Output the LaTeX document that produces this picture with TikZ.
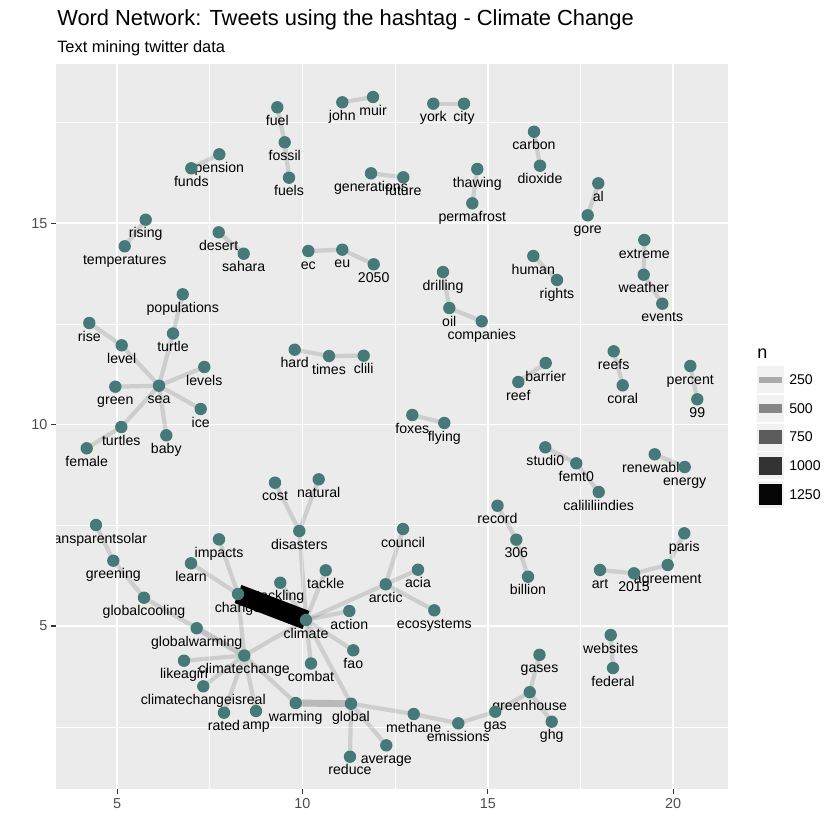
\documentclass[tikz,border=0pt]{standalone}
\usepackage{fontspec}
\setmainfont{Liberation Sans}
\definecolor{panelbg}{HTML}{EBEBEB}
\definecolor{nodeteal}{HTML}{467A79}
\definecolor{axisgray}{HTML}{4D4D4D}
\definecolor{tickgray}{HTML}{333333}
\definecolor{keybg}{HTML}{F2F2F2}
\def\px{0.75pt}
\tikzset{
  word/.style={circle, fill=nodeteal, inner sep=0pt, minimum size=9.3pt},
  lab/.style={anchor=base, inner sep=0pt, font=\fontsize{10.6}{12}\selectfont},
  edge/.style={draw=black, draw opacity=0.12, line width=3.2pt},
  edgemid/.style={draw=black, draw opacity=0.17, line width=4.1pt},
  edgeheavy/.style={draw=black, draw opacity=0.21, line width=5.2pt},
  bigedge/.style={draw=black, line width=14.5pt},
  majorgrid/.style={draw=white, line width=1.4pt},
  minorgrid/.style={draw=white, line width=0.7pt},
  axlab/.style={inner sep=0pt, text=axisgray, font=\fontsize{10.8}{12}\selectfont},
  tickmark/.style={draw=tickgray, line width=0.8pt},
  keytext/.style={anchor=west, inner sep=0pt, font=\fontsize{10.6}{12}\selectfont}
}
% word positions (pixels from top left)
\def\wordlist{fuel/277.3/107.3, fossil/284.7/142.3, fuels/289/177.7, john/342.3/102.3, muir/373/97,
  york/433.3/103.7, city/464/103.7, funds/191.3/168.3, pension/219.3/154.3, generations/371/173.3,
  future/403.3/177.3, thawing/477.3/169, permafrost/472.3/203.3, carbon/534/131.7, dioxide/540/165.7,
  al/598.3/183.3, gore/587.7/215.3, rising/145.7/219.7, temperatures/124.7/246.3, desert/218.7/232.3,
  sahara/243.7/253.7, ec/308.3/251, eu/342.3/249.7, 2050/373.7/264.3, extreme/644.3/240,
  weather/643.7/274.7, events/662.3/303.7, human/533.3/256, rights/557/280, drilling/443/272,
  oil/449.3/308, companies/481.7/321.3, populations/182.7/294.3, rise/89.3/323, turtle/173/333.5,
  level/121.7/345.3, levels/204.3/367, green/115.3/386.7, sea/159/385.7, ice/200.7/409,
  turtles/121.3/427, baby/166.3/435.3, female/86.7/448.3, hard/294.7/349.7, times/329/356,
  clili/363.7/355.7, barrier/545.7/363, reef/518.3/382, reefs/613.7/351.3, coral/622.7/385.3,
  percent/690.3/366, 99/697.3/399.3, foxes/412.3/415, flying/444.3/423, studi0/545.3/447.3,
  femt0/576.3/463.3, calililiindies/598.7/492, renewable/654.7/454.3, energy/684.7/467,
  record/497.5/505.7, 306/516.3/539.7, billion/528/576.7, art/600/570, 2015/634/573.3,
  agreement/667.7/565, paris/684.3/533.3, websites/610.7/635, federal/613/668, cost/275/482.7,
  natural/318.7/479.3, disasters/299.3/531, council/403/529, transparentsolar/96/525,
  greening/113.3/560.7, globalcooling/144/597.7, impacts/219/539.3, learn/191/563.3, change/238/594,
  tackling/280.3/582.7, tackle/325.7/570.3, arctic/385.7/584.3, acia/418/569.7, ecosystems/434.3/610.3,
  action/349.3/611, climate/306/620, globalwarming/196.7/628.2, climatechange/244.3/655.5,
  likeagirl/184/660.7, fao/353.3/650.3, combat/311/663.5, climatechangeisreal/203.3/686.3,
  rated/224/712.7, amp/256/711, warming/295.7/703, global/351/703.7, methane/413.7/714,
  emissions/458.3/723.3, gas/495.3/711.7, greenhouse/529.7/692.2, gases/539.5/654.8,
  ghg/551.7/721.7, reduce/350/756.7, average/386.3/745.3}
\begin{document}
\begin{tikzpicture}[x=\px, y=-\px]
\useasboundingbox (0,0) rectangle (840,840);
\fill[white] (0,0) rectangle (840,840);
% titles
\node[anchor=base west, inner sep=0pt, font=\fontsize{16.4}{19}\selectfont] (title) at (57,25)
  {Word Network: Tweets using the hashtag - Climate Change};
\node[anchor=base west, inner sep=0pt, font=\fontsize{12.3}{14}\selectfont] (subtitle) at (57,52.3)
  {Text mining twitter data};
% panel and grid
\fill[panelbg] (56,64) rectangle (728,789);
\foreach \gx in {209.8,395.1,580.4} \draw[minorgrid] (\gx,64) -- (\gx,789);
\foreach \gy in {122.3,324,525.3,727} \draw[minorgrid] (56,\gy) -- (728,\gy);
\foreach \gx in {117.2,302.5,487.8,673.1} \draw[majorgrid] (\gx,64) -- (\gx,789);
\foreach \gy in {223.3,424.5,626} \draw[majorgrid] (56,\gy) -- (728,\gy);
% axes
\foreach \v/\gx in {5/117.2,10/302.5,15/487.8,20/673.1}{
  \draw[tickmark] (\gx,789) -- (\gx,793.6);
  \node[axlab, anchor=north] (xlab\v) at (\gx,798.3) {\v};
}
\foreach \v/\gy in {5/626,10/424.5,15/223.3}{
  \draw[tickmark] (51.4,\gy) -- (56,\gy);
  \node[axlab, anchor=east] (ylab\v) at (47.7,\gy) {\v};
}
\begin{scope}
  \clip (56,64) rectangle (728,789);
  % words: positions and labels
  \foreach \w/\x/\y in \wordlist {
    \coordinate (\w) at (\x,\y);
    \node[lab] (l-\w) at ([yshift=-13.5pt]\w) {\w};
  }
  % bigram links
  \foreach \a/\b in {fuel/fossil, fossil/fuels, john/muir, york/city, funds/pension,
    generations/future, thawing/permafrost, carbon/dioxide, al/gore, rising/temperatures,
    desert/sahara, ec/eu, eu/2050, extreme/weather, weather/events, human/rights,
    drilling/oil, oil/companies, populations/turtle, turtle/sea, rise/level, level/sea,
    sea/green, sea/levels, sea/ice, sea/baby, sea/turtles, turtles/female, hard/times,
    times/clili, barrier/reef, reefs/coral, percent/99, foxes/flying, studi0/femt0,
    femt0/calililiindies, renewable/energy, record/306, 306/billion, art/2015,
    2015/agreement, agreement/paris, websites/federal, cost/disasters, natural/disasters,
    disasters/climate, council/arctic, arctic/acia, arctic/ecosystems, climate/arctic,
    transparentsolar/greening, greening/globalcooling, globalcooling/globalwarming,
    learn/change, impacts/change, change/climatechange, tackling/climate, tackle/climate,
    climate/action, climate/fao, climate/combat, climate/global, climate/climatechange,
    climatechange/likeagirl, climatechange/climatechangeisreal, climatechange/rated,
    climatechange/amp, climatechange/warming, global/reduce, global/average,
    global/methane, methane/emissions, emissions/gas, gas/greenhouse,
    greenhouse/gases, greenhouse/ghg}
    \draw[edge] (\a) -- (\b);
  \draw[edgemid] (globalwarming) -- (climatechange);
  \draw[edgeheavy] (warming) -- (global);
  \draw[bigedge] (change) -- (climate);
  % word points
  \foreach \w/\x/\y in \wordlist
    \node[word] (p-\w) at (\w) {};
\end{scope}
% legend
\node[anchor=base west, inner sep=0pt, font=\fontsize{13.5}{15}\selectfont] (legtitle) at (757,358.3) {n};
\foreach \i/\lv/\lw/\lc in {0/250/4.5pt/33, 1/500/6.8pt/47, 2/750/10.2pt/64, 3/1000/13.4pt/80, 4/1250/16pt/98}{
  \pgfmathsetmacro\ky{379.7+28.7*\i}
  \fill[keybg] (756.7,\ky-13.6) rectangle (784,\ky+13.6);
  \draw[draw=black!\lc, line width=\lw] (759.3,\ky) -- (782.3,\ky);
  \node[keytext] (key\lv) at (789,\ky) {\lv};
}
\end{tikzpicture}
\end{document}
